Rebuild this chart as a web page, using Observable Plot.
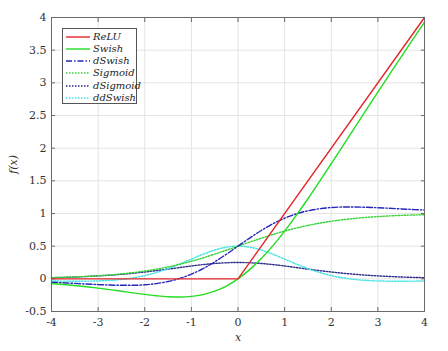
<!DOCTYPE html>
<html><head><meta charset="utf-8">
<script src="https://cdn.jsdelivr.net/npm/d3@7"></script>
<script src="https://cdn.jsdelivr.net/npm/@observablehq/plot@0.6"></script>
<style>
body{margin:0;background:#fff;}
#wrap{position:relative;width:448px;height:351px;}
#wrap svg text{font-family:"DejaVu Serif","Liberation Serif",serif !important;}
#legend{position:absolute;left:62px;top:28px;width:75px;height:76px;border:1px solid #555;background:#fff;font-family:"DejaVu Serif","Liberation Serif",serif;font-style:italic;font-size:10px;color:#222;box-sizing:border-box;}
#legend .row{position:absolute;left:0;height:12px;width:73px;}
#legend svg{position:absolute;left:3px;top:0;}
#legend span{position:absolute;left:30px;top:0;line-height:11px;font-size:10px;}
</style>
</head><body>
<div id="wrap"></div>
<script>
const xs = [-4,-3.75,-3.5,-3.25,-3,-2.75,-2.5,-2.25,-2,-1.75,-1.5,-1.25,-1,-0.75,-0.5,-0.25,0,0.25,0.5,0.75,1,1.25,1.5,1.75,2,2.25,2.5,2.75,3,3.25,3.5,3.75,4];
const reluX = [-4,0,4];
const reluY = [0,0,4];
const swish = [-0.072,-0.086,-0.103,-0.121,-0.142,-0.165,-0.190,-0.215,-0.238,-0.259,-0.274,-0.278,-0.269,-0.241,-0.189,-0.110,0,0.141,0.311,0.509,0.731,0.972,1.226,1.491,1.762,2.036,2.310,2.585,2.858,3.129,3.397,3.664,3.928];
const dswish = [-0.053,-0.061,-0.070,-0.080,-0.088,-0.095,-0.099,-0.099,-0.091,-0.073,-0.041,0.006,0.072,0.157,0.260,0.376,0.5,0.624,0.740,0.843,0.928,0.994,1.041,1.073,1.091,1.099,1.099,1.095,1.088,1.080,1.070,1.061,1.053];
const sigmoid = [0.018,0.023,0.029,0.037,0.047,0.060,0.076,0.095,0.119,0.148,0.182,0.223,0.269,0.321,0.378,0.438,0.5,0.562,0.622,0.679,0.731,0.777,0.818,0.852,0.881,0.905,0.924,0.940,0.953,0.963,0.971,0.977,0.982];
const dsigmoid = [0.018,0.022,0.028,0.036,0.045,0.056,0.070,0.086,0.105,0.126,0.149,0.173,0.197,0.218,0.235,0.246,0.25,0.246,0.235,0.218,0.197,0.173,0.149,0.126,0.105,0.086,0.070,0.056,0.045,0.036,0.028,0.022,0.018];
const ddswish = [-0.033,-0.035,-0.037,-0.036,-0.032,-0.024,-0.009,0.015,0.050,0.097,0.156,0.226,0.302,0.377,0.441,0.485,0.5,0.485,0.441,0.377,0.302,0.226,0.156,0.097,0.050,0.015,-0.009,-0.024,-0.032,-0.036,-0.037,-0.035,-0.033];
const xTicks = [-4,-3,-2,-1,0,1,2,3,4];
const yTicks = [-0.5,0,0.5,1,1.5,2,2.5,3,3.5,4];
const names = ["ReLU","Swish","dSwish","Sigmoid","dSigmoid","ddSwish"];

const styles = {
  ReLU:{stroke:"#e3262b",dash:null,w:1.4},
  Swish:{stroke:"#22dd22",dash:null,w:1.4},
  dSwish:{stroke:"#2626b8",dash:"6,2,1.5,2",w:1.4},
  Sigmoid:{stroke:"#3ad23a",dash:"1.5,1.5",w:1.4},
  dSigmoid:{stroke:"#2b2b8c",dash:"1.5,1.5",w:1.4},
  ddSwish:{stroke:"#44e4e4",dash:"1.5,1.5",w:1.4}
};
const lineMark = (name, X, Y) => Plot.line(X.map((x,i)=>({x, y:Y[i]})), {
  x:"x", y:"y", stroke: styles[name].stroke, strokeWidth: styles[name].w,
  strokeDasharray: styles[name].dash, curve:"monotone-x"
});

const serif = "'DejaVu Serif', 'Liberation Serif', serif";
const axisColor = "#6a6a6a";
const chart = Plot.plot({
  width:448, height:351,
  marginLeft:51, marginRight:24, marginTop:17, marginBottom:40,
  style:{fontFamily:serif, fontSize:"11px", color:"#333", background:"#fff"},
  x:{domain:[-4,4]},
  y:{domain:[-0.5,4]},
  marks:[
    Plot.gridX(xTicks, {stroke:"#e3e3e3", strokeOpacity:1}),
    Plot.gridY(yTicks, {stroke:"#e3e3e3", strokeOpacity:1}),
    Plot.axisX(xTicks, {anchor:"bottom", tickSize:0, tickPadding:7, fontSize:11, fill:"#333", label:"x", labelAnchor:"center", labelArrow:"none", labelOffset:29, tickFormat:d=>String(d)}),
    Plot.axisX(xTicks, {anchor:"bottom", tickSize:-4, text:null, label:null, stroke:axisColor}),
    Plot.axisX(xTicks, {anchor:"top", tickSize:-4, text:null, label:null, stroke:axisColor}),
    Plot.axisY(yTicks, {anchor:"left", tickSize:0, tickPadding:5, fontSize:11, fill:"#333", label:"f(x)", labelAnchor:"center", labelArrow:"none", labelOffset:42, tickFormat:d=>String(d)}),
    Plot.axisY(yTicks, {anchor:"left", tickSize:-4, text:null, label:null, stroke:axisColor}),
    Plot.axisY(yTicks, {anchor:"right", tickSize:-4, text:null, label:null, stroke:axisColor}),
    lineMark("dSigmoid", xs, dsigmoid),
    lineMark("ddSwish", xs, ddswish),
    lineMark("Sigmoid", xs, sigmoid),
    lineMark("dSwish", xs, dswish),
    lineMark("Swish", xs, swish),
    Plot.line(reluX.map((x,i)=>({x,y:reluY[i]})), {x:"x", y:"y", stroke:styles.ReLU.stroke, strokeWidth:styles.ReLU.w}),
    Plot.frame({stroke:axisColor, strokeWidth:1})
  ]
});
d3.select(chart).selectAll("[aria-label='x-axis label'] text, [aria-label='y-axis label'] text").style("font-style","italic");
document.getElementById("wrap").appendChild(chart);

const leg = document.createElement("div");
leg.id = "legend";
names.forEach((n,i)=>{
  const row = document.createElement("div");
  row.className = "row";
  row.style.top = (1.5 + i*12.3) + "px";
  const s = styles[n];
  row.innerHTML = `<svg width="26" height="12"><line x1="0" x2="24" y1="6" y2="6" stroke="${s.stroke}" stroke-width="${s.w}" ${s.dash?`stroke-dasharray="${s.dash}"`:""}/></svg><span>${n}</span>`;
  leg.appendChild(row);
});
document.getElementById("wrap").appendChild(leg);
</script>
</body></html>
